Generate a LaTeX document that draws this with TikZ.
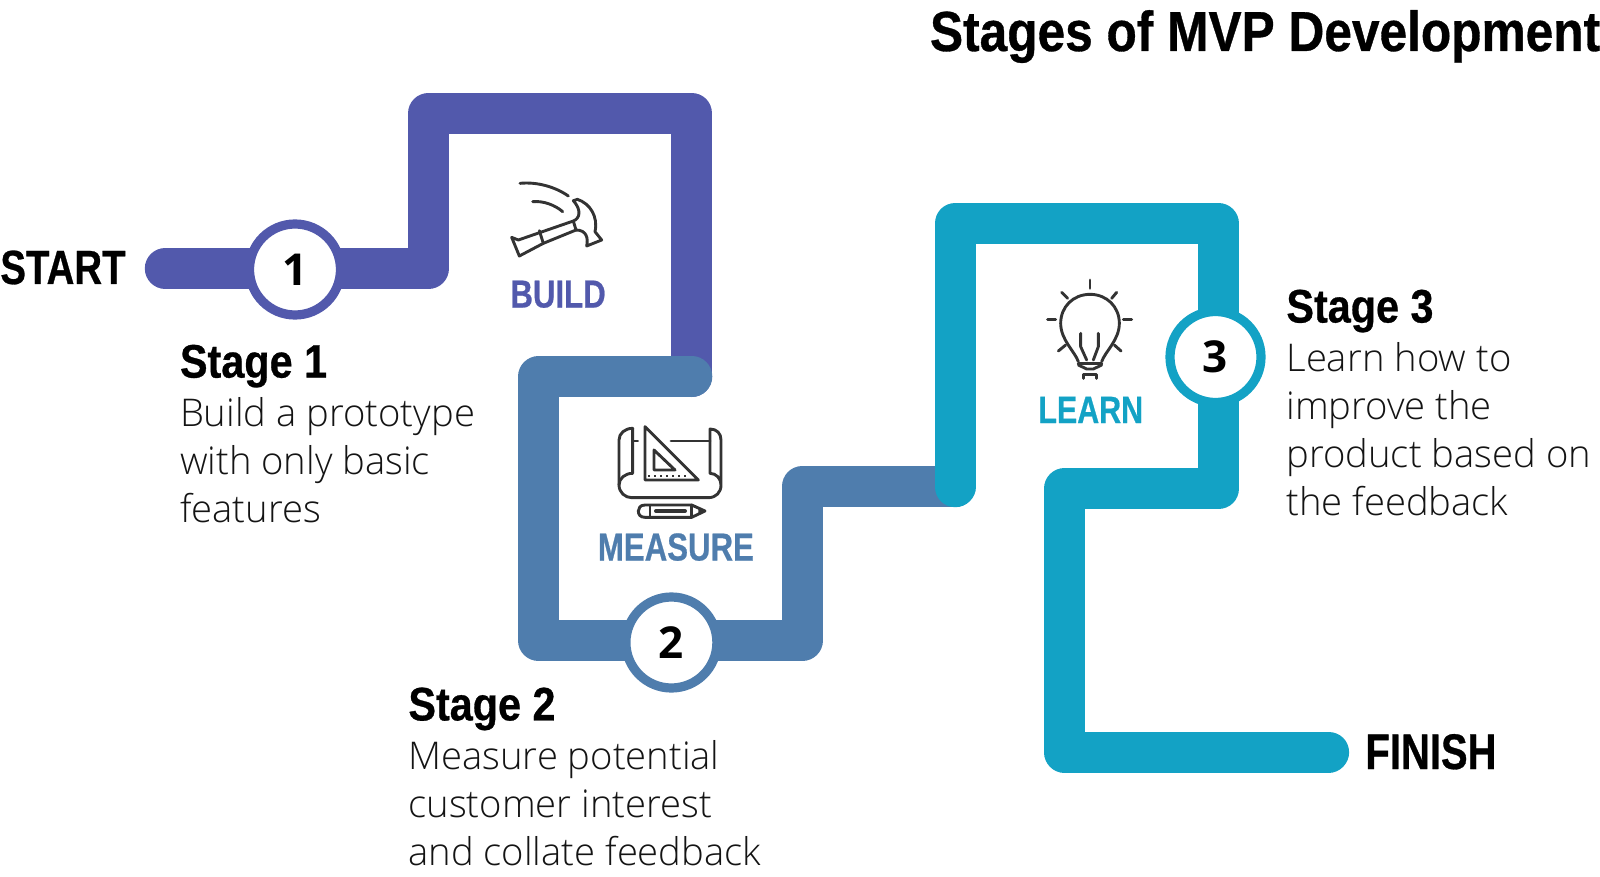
\documentclass[tikz,border=0pt]{standalone}
\usepackage{fontspec}
\setmainfont{Liberation Sans}
\newfontfamily\headfont[FakeStretch=0.80,FakeBold=0.6]{Liberation Sans Bold}
\newfontfamily\widehead[FakeStretch=0.88,FakeBold=0.6]{Liberation Sans Bold}
\newfontfamily\bodyfont{Open Sans Light}
\newfontfamily\digitfont{Open Sans Bold}
\definecolor{cbuild}{HTML}{5259AC}
\definecolor{cmeasure}{HTML}{4F7DAD}
\definecolor{clearn}{HTML}{13A2C5}
\definecolor{cicon}{HTML}{333333}
\tikzset{
  road/.style={line width=20.5pt,line cap=round,line join=round},
  ringnode/.style={circle,fill=white,line width=4.6pt,minimum size=45.5pt,inner sep=0pt,outer sep=0pt,font=\digitfont\fontsize{22}{22}\selectfont,text=black},
  headline/.style={anchor=base west,inner sep=0pt,font=\headfont\fontsize{#1}{#1}\selectfont},
  wideline/.style={anchor=base west,inner sep=0pt,font=\widehead\fontsize{#1}{#1}\selectfont},
  bodytext/.style={anchor=north west,inner sep=0pt,align=left,font=\bodyfont\fontsize{19.1}{24}\selectfont,text=black!92},
  iconline/.style={line width=1.45pt,color=cicon,line cap=round,line join=round},
}
\begin{document}
\begin{tikzpicture}[x=0.5pt,y=-0.5pt]
\useasboundingbox (0,0) rectangle (1600,877);
% road waypoints
\coordinate (a0) at (165.3,268.4);
\coordinate (a1) at (428.6,268.4);
\coordinate (a2) at (428.6,113.3);
\coordinate (a3) at (691.8,113.3);
\coordinate (a4) at (691.8,376.5);
\coordinate (b1) at (538.8,376.5);
\coordinate (b2) at (538.8,640.8);
\coordinate (b3) at (802,640.8);
\coordinate (b4) at (802,486.7);
\coordinate (b5) at (955,486.7);
\coordinate (c1) at (955,223.5);
\coordinate (c2) at (1218.4,223.5);
\coordinate (c3) at (1218.4,488.8);
\coordinate (c4) at (1064.3,488.8);
\coordinate (c5) at (1064.3,752);
\coordinate (c6) at (1328.6,752);
\draw[road,cbuild] (a0) -- (a1) -- (a2) -- (a3) -- (a4);
\draw[road,cmeasure] (a4) -- (b1) -- (b2) -- (b3) -- (b4) -- (b5);
\draw[road,clearn] (b5) -- (c1) -- (c2) -- (c3) -- (c4) -- (c5) -- (c6);
% stage markers
\node[ringnode,draw=cbuild] (one) at (295,269.5) {1};
\node[ringnode,draw=cmeasure] (two) at (671.4,642.5) {2};
\node[ringnode,draw=clearn] (three) at (1215.5,357) {3};
% title and labels
\node[wideline=28.2] (title) at (929.6,51) {Stages of MVP Development};
\node[headline=24] (start) at (0,284) {START};
\node[headline=25] (finish) at (1365,769) {FINISH};
\node[headline=19.5,text=cbuild] (build) at (510,307.5) {BUILD};
\node[headline=19.5,text=cmeasure] (measure) at (597.5,560.5) {MEASURE};
\node[headline=19,text=clearn] (learn) at (1038,423) {LEARN};
\node[wideline=23.5] (s1) at (179.6,377.6) {Stage 1};
\node[wideline=23.5] (s2) at (408,720.4) {Stage 2};
\node[wideline=23.5] (s3) at (1286,322.5) {Stage 3};
\node[bodytext] (t1) at (179.6,397) {Build a prototype\\with only basic\\features};
\node[bodytext] (t2) at (408,740) {Measure potential\\customer interest\\and collate feedback};
\node[bodytext] (t3) at (1286,342) {Learn how to\\improve the\\product based on\\the feedback};
% hammer icon
\begin{scope}[shift={(480,160)},x=0.16667pt,y=-0.16667pt,iconline]
\draw (120,70) .. controls (170,65) and (225,80) .. (265,108);
\draw (158,125) .. controls (190,122) and (225,135) .. (248,155);
\draw (95,232) -- (115,240) -- (280,183) .. controls (300,175) and (305,150) .. (280,122)
  .. controls (285,118) and (288,118) .. (292,118) .. controls (330,130) and (355,170) .. (345,215)
  -- (365,240) -- (320,258) .. controls (325,235) and (320,210) .. (288,210)
  -- (190,250) -- (118,288) -- cycle;
\draw (178,212) -- (190,250);
\draw (280,183) -- (288,210);
\end{scope}
% blueprint icon
\begin{scope}[shift={(590,405)},x=0.16667pt,y=-0.16667pt,iconline]
\draw (128,70) -- (128,205) .. controls (105,205) and (87,220) .. (87,240);
\draw (128,70) .. controls (105,70) and (87,85) .. (87,105) -- (87,240) .. controls (87,262) and (105,278) .. (125,278) -- (355,278) .. controls (378,278) and (393,262) .. (393,240) -- (393,105) .. controls (393,85) and (380,72) .. (360,72) -- (360,205) .. controls (378,205) and (393,220) .. (393,240);
\draw (128,108) -- (143,108);
\draw (243,108) -- (360,108);
\draw (165,65) -- (165,225) -- (325,225) -- cycle;
\draw (192,135) -- (192,195) -- (255,195) -- cycle;
\draw[dash pattern=on 1pt off 2pt,line cap=butt] (175,213) -- (300,213);
\end{scope}
% pencil icon
\begin{scope}[shift={(610,485)},x=0.16667pt,y=-0.16667pt,iconline]
\draw (105,60) .. controls (90,60) and (85,70) .. (85,78) .. controls (85,88) and (90,97) .. (105,97) -- (245,97) -- (285,78) -- (245,60) -- cycle;
\draw (120,62) -- (120,95);
\draw (245,60) -- (245,97);
\draw[line width=2pt] (138,78) -- (225,78);
\fill[cicon] (265,68) -- (285,78) -- (265,88) -- cycle;
\end{scope}
% light bulb icon
\begin{scope}[shift={(1015,265)},x=0.16667pt,y=-0.16667pt,iconline]
\draw (225,45) -- (225,70);
\draw (140,82) -- (158,100);
\draw (305,82) -- (290,100);
\draw (98,163) -- (122,163);
\draw (325,163) -- (350,163);
\draw (130,258) -- (152,240);
\draw (298,240) -- (318,258);
\draw (190,290) .. controls (180,260) and (137,225) .. (137,175) .. controls (137,125) and (175,88) .. (225,88) .. controls (275,88) and (313,125) .. (313,175) .. controls (313,225) and (270,260) .. (260,290);
\draw (197,205) -- (197,245) -- (215,285);
\draw (250,205) -- (250,245) -- (235,285);
\draw (190,295) -- (260,295);
\draw (190,300) -- (215,312) -- (235,312) -- (260,300);
\draw (205,340) -- (205,328) -- (245,328) -- (245,340);
\end{scope}
\end{tikzpicture}
\end{document}
